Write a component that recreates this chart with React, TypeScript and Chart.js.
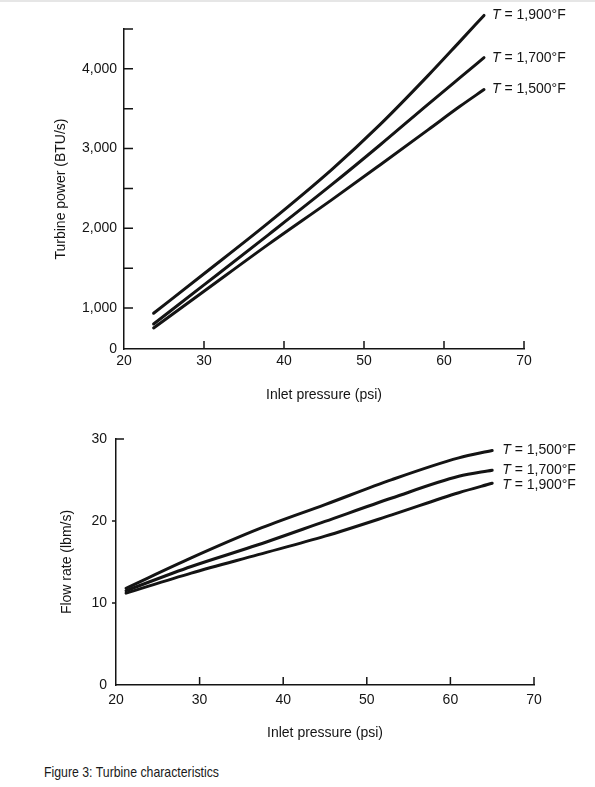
import React, { useEffect, useRef } from "react";
import { Chart, registerables } from "chart.js";

Chart.register(...registerables);

// ---------- data ----------
const pressureTicks = [20, 30, 40, 50, 60, 70];

const powerPressure = [23.7, 30, 38, 46, 52, 58, 62, 65];
const power1900 = [935, 1430, 2065, 2740, 3300, 3915, 4345, 4670];
const power1700 = [800, 1290, 1915, 2550, 3045, 3555, 3890, 4140];
const power1500 = [750, 1210, 1795, 2360, 2795, 3235, 3530, 3740];
// broken axis: the lowest tick is labelled "0"
const powerTickValues = [486, 1000, 1500, 2000, 2500, 3000, 3500, 4000, 4500];
const powerTickLabels = ["0", "1,000", "", "2,000", "", "3,000", "", "4,000", ""];

const flowPressure = [21.2, 29, 37, 45, 53, 61, 65];
const flow1500 = [11.8, 15.5, 19.0, 22.0, 25.05, 27.7, 28.6];
const flow1700 = [11.5, 14.45, 17.1, 19.95, 22.8, 25.45, 26.2];
const flow1900 = [11.2, 13.65, 15.9, 18.15, 20.75, 23.45, 24.6];
const flowTickValues = [0, 10, 20, 30];

const seriesLabels = ["T = 1,900°F", "T = 1,700°F", "T = 1,500°F"];
const flowLabels = ["T = 1,500°F", "T = 1,700°F", "T = 1,900°F"];

// ---------- style ----------
const INK = "#141414";
const FONT = "'Liberation Sans', Arial, Helvetica, sans-serif";
const FS = 14;

const insideTicks = {
  id: "insideTicks",
  afterDraw(chart: any, _args: any, opts: any) {
    const { ctx, chartArea } = chart;
    const xs = chart.scales.x;
    const ys = chart.scales.y;
    ctx.save();
    ctx.strokeStyle = INK;
    ctx.lineWidth = 1.5;
    ctx.beginPath();
    for (const t of xs.ticks) {
      if (t.value === xs.min) continue;
      const px = xs.getPixelForValue(t.value);
      ctx.moveTo(px, chartArea.bottom);
      ctx.lineTo(px, chartArea.bottom - opts.xLen);
    }
    for (const t of ys.ticks) {
      if (t.value === ys.min) continue;
      const py = ys.getPixelForValue(t.value);
      const len = t.value === ys.max ? opts.yTopLen : opts.yLen;
      ctx.moveTo(chartArea.left, py);
      ctx.lineTo(chartArea.left + len, py);
    }
    ctx.stroke();
    ctx.restore();
  },
};

const endLabels = {
  id: "endLabels",
  afterDatasetsDraw(chart: any, _args: any, opts: any) {
    const ctx = chart.ctx;
    ctx.save();
    ctx.fillStyle = INK;
    ctx.textBaseline = "middle";
    ctx.textAlign = "left";
    chart.data.datasets.forEach((ds: any, i: number) => {
      const meta = chart.getDatasetMeta(i);
      const pt = meta.data[meta.data.length - 1];
      let x = pt.x + opts.gap;
      const y = pt.y + ((opts.dy && opts.dy[i]) || 0);
      ctx.font = `italic ${FS}px ${FONT}`;
      ctx.fillText(ds.label.charAt(0), x, y);
      x += ctx.measureText(ds.label.charAt(0)).width;
      ctx.font = `${FS}px ${FONT}`;
      ctx.fillText(ds.label.slice(1), x, y);
    });
    ctx.restore();
  },
};

function lineDataset(label: string, xs: number[], ys: number[]) {
  return {
    label,
    data: xs.map((x, i) => ({ x, y: ys[i] })),
    borderColor: INK,
    borderWidth: 3,
    borderCapStyle: "round",
    borderJoinStyle: "round",
    pointRadius: 0,
    cubicInterpolationMode: "monotone",
    fill: false,
    clip: false,
  };
}

function axisX(tickPad: number, height: number, titlePadBottom: number) {
  return {
    type: "linear",
    min: 20,
    max: 70,
    afterBuildTicks: (s: any) => {
      s.ticks = pressureTicks.map((value) => ({ value }));
    },
    afterFit: (s: any) => {
      s.height = height;
    },
    grid: { display: false, drawTicks: false },
    border: { display: true, color: INK, width: 1.5 },
    ticks: {
      color: INK,
      font: { family: FONT, size: FS },
      padding: tickPad,
      autoSkip: false,
      maxRotation: 0,
    },
    title: {
      display: true,
      text: "Inlet pressure (psi)",
      color: INK,
      font: { family: FONT, size: FS },
      padding: { top: 0, bottom: titlePadBottom },
    },
  };
}

function makePowerConfig(): any {
  return {
    type: "line",
    data: {
      datasets: [
        lineDataset(seriesLabels[0], powerPressure, power1900),
        lineDataset(seriesLabels[1], powerPressure, power1700),
        lineDataset(seriesLabels[2], powerPressure, power1500),
      ],
    },
    options: {
      responsive: false,
      maintainAspectRatio: false,
      animation: false,
      events: [],
      layout: { autoPadding: false, padding: { left: 0, right: 71, top: 29, bottom: 0 } },
      plugins: {
        legend: { display: false },
        tooltip: { enabled: false },
        insideTicks: { xLen: 8, yLen: 9, yTopLen: 9 },
        endLabels: { gap: 8 },
      },
      scales: {
        x: axisX(4, 61, 6.5),
        y: {
          type: "linear",
          min: powerTickValues[0],
          max: powerTickValues[powerTickValues.length - 1],
          afterBuildTicks: (s: any) => {
            s.ticks = powerTickValues.map((value) => ({ value }));
          },
          afterFit: (s: any) => {
            s.width = 124;
          },
          grid: { display: false, drawTicks: false },
          border: { display: true, color: INK, width: 1.5 },
          ticks: {
            color: INK,
            font: { family: FONT, size: FS },
            padding: 7,
            autoSkip: false,
            callback: (_v: any, i: number) => powerTickLabels[i],
          },
          title: {
            display: true,
            text: "Turbine power (BTU/s)",
            color: INK,
            font: { family: FONT, size: FS },
            padding: { top: 52.5, bottom: 0 },
          },
        },
      },
    },
    plugins: [insideTicks, endLabels],
  };
}

function makeFlowConfig(): any {
  return {
    type: "line",
    data: {
      datasets: [
        lineDataset(flowLabels[0], flowPressure, flow1500),
        lineDataset(flowLabels[1], flowPressure, flow1700),
        lineDataset(flowLabels[2], flowPressure, flow1900),
      ],
    },
    options: {
      responsive: false,
      maintainAspectRatio: false,
      animation: false,
      events: [],
      layout: { autoPadding: false, padding: { left: 0, right: 61, top: 19, bottom: 0 } },
      plugins: {
        legend: { display: false },
        tooltip: { enabled: false },
        insideTicks: { xLen: 8, yLen: -4, yTopLen: 8 },
        endLabels: { gap: 10, dy: [0, 0, 2] },
      },
      scales: {
        x: axisX(7, 65, 8.5),
        y: {
          type: "linear",
          min: 0,
          max: 30,
          afterBuildTicks: (s: any) => {
            s.ticks = flowTickValues.map((value) => ({ value }));
          },
          afterFit: (s: any) => {
            s.width = 116;
          },
          grid: { display: false, drawTicks: false },
          border: { display: true, color: INK, width: 1.5 },
          ticks: {
            color: INK,
            font: { family: FONT, size: FS },
            padding: 9,
            autoSkip: false,
          },
          title: {
            display: true,
            text: "Flow rate (lbm/s)",
            color: INK,
            font: { family: FONT, size: FS },
            padding: { top: 58.5, bottom: 0 },
          },
        },
      },
    },
    plugins: [insideTicks, endLabels],
  };
}

function ChartCanvas({
  makeConfig,
  top,
  height,
}: {
  makeConfig: () => any;
  top: number;
  height: number;
}) {
  const ref = useRef<HTMLCanvasElement | null>(null);
  useEffect(() => {
    if (!ref.current) return;
    const chart = new Chart(ref.current, makeConfig());
    return () => chart.destroy();
  }, [makeConfig]);
  return (
    <canvas
      ref={ref}
      width={595}
      height={height}
      style={{ position: "absolute", left: 0, top, width: 595, height }}
    />
  );
}

export default function App() {
  return (
    <div
      style={{
        position: "absolute",
        left: 0,
        top: 0,
        width: 595,
        height: 787,
        background: "#ffffff",
        overflow: "hidden",
      }}
    >
      <div
        style={{
          position: "absolute",
          left: 0,
          top: 0,
          width: 595,
          height: 2,
          background: "#e6e6e6",
        }}
      />
      <ChartCanvas makeConfig={makePowerConfig} top={0} height={410} />
      <ChartCanvas makeConfig={makeFlowConfig} top={420} height={330} />
      <div
        style={{
          position: "absolute",
          left: 44,
          top: 763.5,
          fontFamily: "'Liberation Sans', Arial, sans-serif",
          fontSize: 15,
          lineHeight: "15px",
          color: "#1a1a1a",
          whiteSpace: "nowrap",
          transform: "scaleX(0.82)",
          transformOrigin: "0 0",
        }}
      >
        Figure 3: Turbine characteristics
      </div>
    </div>
  );
}
